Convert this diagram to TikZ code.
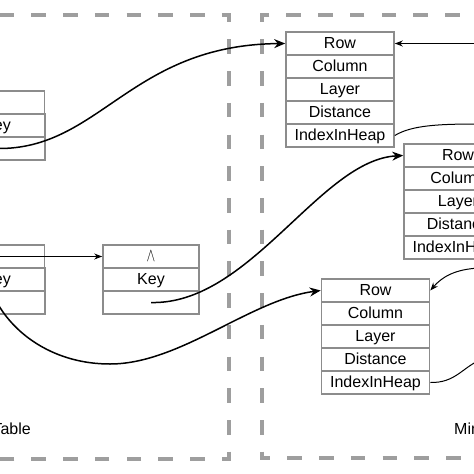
\documentclass[tikz,border=0pt]{standalone}
\usepackage{fontspec}
\usepackage{graphicx}
\setmainfont{Liberation Sans}
\usetikzlibrary{arrows.meta}
\definecolor{boxgray}{HTML}{8C8C8C}
\definecolor{dashgray}{HTML}{9E9E9E}
\begin{document}
\begin{tikzpicture}[x=1pt,y=-1pt,
  cell/.style={draw=boxgray, line width=1.6pt, minimum height=23pt, inner sep=0pt,
    font=\fontsize{16}{16}\selectfont, text height=12pt, text depth=1.5pt},
  heapcell/.style={cell, minimum width=108pt},
  hashcell/.style={cell, minimum width=96pt},
  region/.style={draw=dashgray, line width=4pt, dash pattern=on 14.5pt off 17.214pt, line join=miter},
  bigarrow/.style={line width=1.5pt, -{Stealth[length=11pt,width=9pt]}},
  thinarrow/.style={line width=1pt, -{Stealth[length=8pt,width=6pt]}},
  thinlink/.style={line width=1pt},
  lbl/.style={inner sep=0pt, font=\fontsize{16}{16}\selectfont}
]
\useasboundingbox (0,0) rectangle (474,474);
\fill[white] (0,0) rectangle (474,474);

% dashed regions
\draw[region, dash phase=11.964pt] (-20,15) -- (229,15) -- (229,459) -- (-20,459);
\draw[region, dash phase=11.25pt] (480,15) -- (262,15) -- (262,458) -- (480,458);

% heap records
\node[heapcell] (A1) at (340,43.5) {Row};
\node[heapcell] (A2) at (340,66.5) {Column};
\node[heapcell] (A3) at (340,89.5) {Layer};
\node[heapcell] (A4) at (340,112.5) {Distance};
\node[heapcell] (A5) at (340,135.5) {IndexInHeap};

\node[heapcell] (B1) at (458,155.5) {Row};
\node[heapcell] (B2) at (458,178.5) {Column};
\node[heapcell] (B3) at (458,201.5) {Layer};
\node[heapcell] (B4) at (458,224.5) {Distance};
\node[heapcell] (B5) at (458,247.5) {IndexInHeap};

\node[heapcell] (C1) at (375.5,290.5) {Row};
\node[heapcell] (C2) at (375.5,313.5) {Column};
\node[heapcell] (C3) at (375.5,336.5) {Layer};
\node[heapcell] (C4) at (375.5,359.5) {Distance};
\node[heapcell] (C5) at (375.5,382.5) {IndexInHeap};

% hash records
\node[hashcell] (D1) at (-3.5,102.5) {\scalebox{0.75}[1.1]{$\wedge$}};
\node[hashcell] (D2) at (-3,125.5) {Key};
\node[hashcell] (D3) at (-3,148.5) {};

\node[hashcell] (E1) at (-3.5,256.5) {\scalebox{0.75}[1.1]{$\wedge$}};
\node[hashcell] (E2) at (-3,279.5) {Key};
\node[hashcell] (E3) at (-3,302.5) {};

\node[hashcell] (F1) at (151,256.5) {\scalebox{0.75}[1.1]{$\wedge$}};
\node[hashcell] (F2) at (151,279.5) {Key};
\node[hashcell] (F3) at (151,302.5) {};

% labels
\node[lbl, anchor=east] (tlabel) at (31,429) {Table};
\node[lbl, anchor=west] (hlabel) at (454,429) {Min};

% free ends off the right edge
\coordinate (r1) at (480,43.5);
\coordinate (r2) at (480,124);
\coordinate (r3) at (480,268);
\coordinate (r4) at (480,360);

% connectors
\draw[bigarrow] (D3.center) .. controls (100,150) and (130,45) .. (A1.west);
\draw[thinarrow] (r1) -- (A1.east);
\draw[thinlink] (A5.east) .. controls (412,125) and (440,124) .. (r2);
\draw[bigarrow] (F3.center) .. controls (250,305) and (320,160) .. (B1.west);
\draw[bigarrow] (E3.center) .. controls (15,335) and (55,364) .. (110,364)
   .. controls (180,364) and (250,300) .. (C1.west);
\draw[thinarrow] (E1.center) -- (F1.west);
\draw[thinarrow] (r3) .. controls (455,269) and (442,277) .. (C1.east);
\draw[thinlink] (C5.east) .. controls (455,383) and (462,368) .. (r4);
\end{tikzpicture}
\end{document}
